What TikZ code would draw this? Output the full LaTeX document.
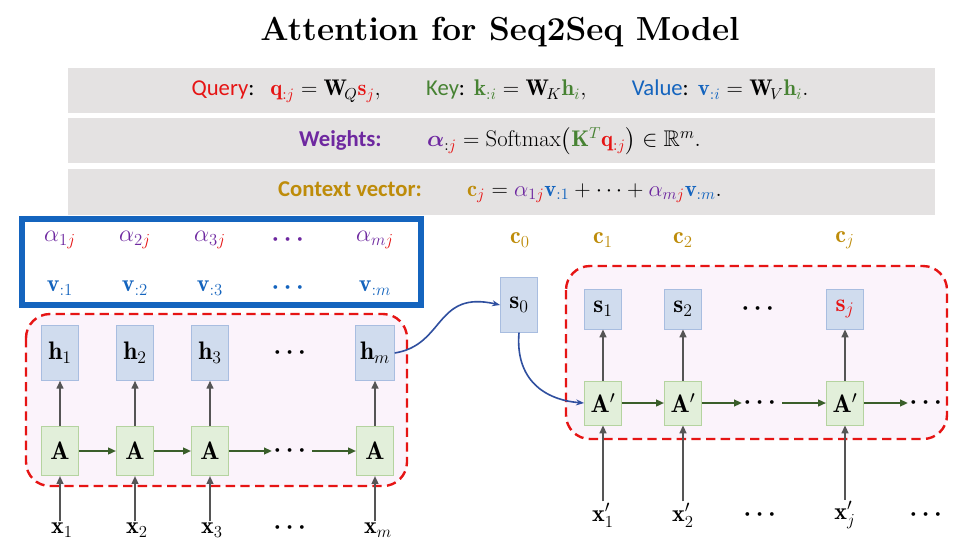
\documentclass[tikz,border=0pt]{standalone}
\usepackage{fix-cm}
\usepackage{amsmath,amssymb,bm}
\usepackage{fontspec}
\setsansfont{Carlito}
\usetikzlibrary{positioning, arrows.meta}
\definecolor{qred}{RGB}{230,20,20}
\definecolor{kgreen}{RGB}{70,130,50}
\definecolor{vblue}{RGB}{20,100,190}
\definecolor{wpurple}{RGB}{110,40,160}
\definecolor{cgold}{RGB}{190,140,10}
\definecolor{band}{RGB}{228,226,226}
\tikzstyle{hbox} = [rectangle, minimum width=28pt, minimum height=41pt, draw={rgb,255:red,168;green,189;blue,224}, fill={rgb,255:red,208;green,220;blue,238}, font=\fontsize{19}{19}\selectfont]
\tikzstyle{abox} = [rectangle, minimum width=28pt, minimum height=37pt, draw={rgb,255:red,181;green,211;blue,160}, fill={rgb,255:red,226;green,239;blue,218}, font=\fontsize{19}{19}\selectfont]
\tikzstyle{lbl} = [inner sep=1pt, font=\fontsize{18}{18}\selectfont]
\tikzstyle{up} = [line width=1.6pt, draw={rgb,255:red,85;green,85;blue,85}, -{Triangle[length=6pt,width=5pt]}]
\tikzstyle{side} = [line width=1.6pt, draw={rgb,255:red,58;green,94;blue,42}, -{Triangle[length=6pt,width=5pt]}]
\tikzstyle{curve} = [line width=1.2pt, draw={rgb,255:red,47;green,79;blue,159}, -{Stealth[length=6pt]}]
\tikzstyle{grp} = [draw=qred, line width=1.8pt, dash pattern=on 7pt off 4pt, rounded corners=18pt, fill={rgb,255:red,251;green,243;blue,251}]

\begin{document}
\begin{tikzpicture}[x=0.75pt, y=-0.75pt]
\useasboundingbox[fill=white] (0,0) rectangle (963,554);

%% TITLE AND FORMULAS

\node (title) at (500,32) {\fontsize{25}{25}\selectfont\bfseries Attention for Seq2Seq Model};
\fill[band] (68,68) rectangle (935,113);
\fill[band] (68,118) rectangle (935,163);
\fill[band] (68,169) rectangle (935,215);
\node (query) at (500,91) {\fontsize{17}{17}\selectfont
  \textsf{\textcolor{qred}{Query}:} \ $\textcolor{qred}{\mathbf{q}_{:j}}=\mathbf{W}_{\!Q}\textcolor{qred}{\mathbf{s}_j},$\qquad
  \textsf{\textcolor{kgreen}{Key}:} $\textcolor{kgreen}{\mathbf{k}_{:i}}=\mathbf{W}_{\!K}\textcolor{kgreen}{\mathbf{h}_i},$\qquad
  \textsf{\textcolor{vblue}{Value}:} $\textcolor{vblue}{\mathbf{v}_{:i}}=\mathbf{W}_{\!V}\textcolor{kgreen}{\mathbf{h}_i}.$};
\node (weights) at (500,141) {\fontsize{17}{17}\selectfont
  \textsf{\textcolor{wpurple}{\bfseries Weights:}}\qquad $\textcolor{wpurple}{\bm{\alpha}}_{:\textcolor{qred}{j}}=\mathrm{Softmax}\big(\textcolor{kgreen}{\mathbf{K}^T}\textcolor{qred}{\mathbf{q}_{:j}}\big)\in\mathbb{R}^m.$};
\node (context) at (500,192) {\fontsize{17}{17}\selectfont
  \textsf{\textcolor{cgold}{\bfseries Context vector:}}\qquad $\textcolor{cgold}{\mathbf{c}}_{\textcolor{qred}{j}}=\textcolor{wpurple}{\alpha_{1\textcolor{qred}{j}}}\textcolor{vblue}{\mathbf{v}_{:1}}+\cdots+\textcolor{wpurple}{\alpha_{m\textcolor{qred}{j}}}\textcolor{vblue}{\mathbf{v}_{:m}}.$};

%% ENCODER

\draw[vblue, line width=4pt] (22,219) rectangle (421,305);
\draw[grp] (26,314) rectangle (407,486);

\node (a1) [lbl] at (60,240) {$\textcolor{wpurple}{\alpha_{1\textcolor{qred}{j}}}$};
\node (a2) [lbl] at (135,240) {$\textcolor{wpurple}{\alpha_{2\textcolor{qred}{j}}}$};
\node (a3) [lbl] at (210,240) {$\textcolor{wpurple}{\alpha_{3\textcolor{qred}{j}}}$};
\node (ad) [lbl] at (290,240) {\textcolor{wpurple}{$\bm{\cdots}$}};
\node (am) [lbl] at (375,240) {$\textcolor{wpurple}{\alpha_{m\textcolor{qred}{j}}}$};
\node (v1) [lbl] at (60,288) {$\textcolor{vblue}{\mathbf{v}_{:1}}$};
\node (v2) [lbl] at (135,288) {$\textcolor{vblue}{\mathbf{v}_{:2}}$};
\node (v3) [lbl] at (210,288) {$\textcolor{vblue}{\mathbf{v}_{:3}}$};
\node (vd) [lbl] at (290,288) {\textcolor{vblue}{$\bm{\cdots}$}};
\node (vm) [lbl] at (375,288) {$\textcolor{vblue}{\mathbf{v}_{:m}}$};

\node (h1) [hbox] at (60,353) {$\mathbf{h}_1$};
\node (h2) [hbox] at (135,353) {$\mathbf{h}_2$};
\node (h3) [hbox] at (210,353) {$\mathbf{h}_3$};
\node (hd) [lbl] at (292,353) {$\bm{\cdots}$};
\node (hm) [hbox] at (375,353) {$\mathbf{h}_m$};
\node (e1) [abox] at (60,451) {$\mathbf{A}$};
\node (e2) [abox] at (135,451) {$\mathbf{A}$};
\node (e3) [abox] at (210,451) {$\mathbf{A}$};
\node (ed) [lbl] at (292,451) {$\bm{\cdots}$};
\node (em) [abox] at (375,451) {$\mathbf{A}$};
\node (x1) [lbl] at (62,530) {$\mathbf{x}_1$};
\node (x2) [lbl] at (137,530) {$\mathbf{x}_2$};
\node (x3) [lbl] at (212,530) {$\mathbf{x}_3$};
\node (xd) [lbl] at (292,528) {$\bm{\cdots}$};
\node (xm) [lbl] at (378,530) {$\mathbf{x}_m$};

%% DECODER

\draw[grp] (566,266) rectangle (947,439);
\node (c0) [lbl] at (520,240) {$\textcolor{cgold}{\mathbf{c}_0}$};
\node (c1) [lbl] at (603,240) {$\textcolor{cgold}{\mathbf{c}_1}$};
\node (c2) [lbl] at (683,240) {$\textcolor{cgold}{\mathbf{c}_2}$};
\node (cj) [lbl] at (845,240) {$\textcolor{cgold}{\mathbf{c}_j}$};
\node (s0) [hbox] at (519,305) {$\mathbf{s}_0$};
\node (s1) [hbox, minimum height=30pt] at (603,309) {$\mathbf{s}_1$};
\node (s2) [hbox, minimum height=30pt] at (683,309) {$\mathbf{s}_2$};
\node (sd) [lbl] at (760,309) {$\bm{\cdots}$};
\node (sj) [hbox, minimum height=30pt] at (845,309) {$\textcolor{qred}{\mathbf{s}_j}$};
\node (d1) [abox, minimum height=33pt] at (603,403) {$\mathbf{A}'$};
\node (d2) [abox, minimum height=33pt] at (683,403) {$\mathbf{A}'$};
\node (dd) [lbl] at (762,403) {$\bm{\cdots}$};
\node (dj) [abox, minimum height=33pt] at (845,403) {$\mathbf{A}'$};
\node (de) [lbl] at (928,403) {$\bm{\cdots}$};
\node (y1) [lbl] at (603,515) {$\mathbf{x}'_1$};
\node (y2) [lbl] at (683,515) {$\mathbf{x}'_2$};
\node (yd) [lbl] at (762,515) {$\bm{\cdots}$};
\node (yj) [lbl] at (845,515) {$\mathbf{x}'_j$};
\node (ye) [lbl] at (928,515) {$\bm{\cdots}$};

%% ARROWS

\draw [up] (e1) -- (h1);
\draw [up] (e2) -- (h2);
\draw [up] (e3) -- (h3);
\draw [up] (em) -- (hm);
\draw [up] (x1.north -| e1) -- (e1);
\draw [up] (x2.north -| e2) -- (e2);
\draw [up] (x3.north -| e3) -- (e3);
\draw [up] (xm.north -| em) -- (em);
\draw [side] (e1) -- (e2);
\draw [side] (e2) -- (e3);
\draw [side] (e3) -- (ed);
\draw [side] (ed) -- (em);
\draw [up] (d1) -- (s1);
\draw [up] (d2) -- (s2);
\draw [up] (dj) -- (sj);
\draw [up] (y1) -- (d1);
\draw [up] (y2) -- (d2);
\draw [up] (yj) -- (dj);
\draw [side] (d1) -- (d2);
\draw [side] (d2) -- (dd);
\draw [side] (dd) -- (dj);
\draw [side] (dj) -- (de);
\draw [curve] (hm.east) .. controls (445,345) and (435,290) .. (s0.west);
\draw [curve] (s0.south) .. controls (515,380) and (545,400) .. (d1.west);

\end{tikzpicture}
\end{document}
